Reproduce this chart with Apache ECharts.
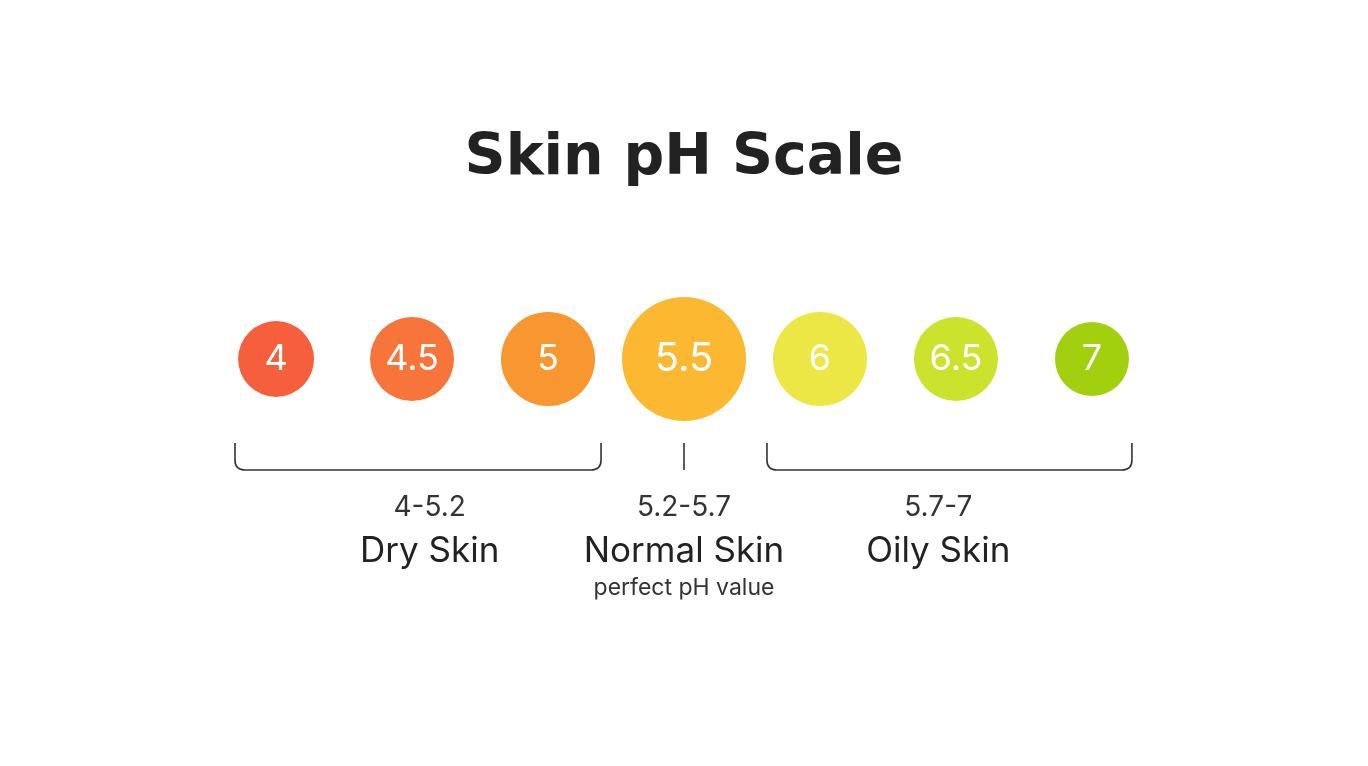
<!DOCTYPE html><html><head><meta charset="utf-8"><script src="https://cdn.jsdelivr.net/npm/echarts@6/dist/echarts.min.js"></script>
<style>html,body{margin:0;background:#fff}#c{width:1368px;height:766px}</style></head><body><div id="c"></div><script>
const phValues=[4,4.5,5,5.5,6,6.5,7];
const phLabels=['4','4.5','5','5.5','6','6.5','7'];
const sizes=[76,84,94,124,94,84,74];
const colors=['#f65f3b','#f7743a','#f8962f','#fbb830','#ece744','#cbe32d','#a2d00e'];
const ranges=[[3.849,5.195],[5.5,5.5],[5.805,7.147]];
const rangeLabels=['4-5.2','5.2-5.7','5.7-7'];
const groupNames=['Dry Skin','Normal Skin','Oily Skin'];
const groupCenters=[4.565,5.5,6.435];
const F='Inter, "Noto Sans", sans-serif';
const ch=echarts.init(document.getElementById('c'));
ch.setOption({
 title:{text:'Skin pH Scale',left:'center',top:126,textStyle:{fontFamily:'"DejaVu Sans", sans-serif',fontSize:57,fontWeight:'bold',color:'#222'}},
 grid:{left:0,right:0,top:0,bottom:0},
 xAxis:{type:'value',min:2.985,max:8.015,show:false},
 yAxis:{type:'value',min:0,max:766,inverse:true,show:false},
 series:[
  {type:'scatter',data:phValues.map((v,i)=>({value:[v,359],symbolSize:sizes[i],itemStyle:{color:colors[i],opacity:1},label:{show:true,formatter:phLabels[i],position:'inside',color:'#fff',fontFamily:F,fontSize:i===3?40:36,fontWeight:400}})),silent:true},
  {type:'custom',data:ranges.map((r,i)=>[r[0],r[1],i]),renderItem:(p,api)=>{
    const a=api.coord([api.value(0),443]),b=api.coord([api.value(1),470]);
    const i=api.value(2);const ls={stroke:'#333',lineWidth:1.6,fill:null};
    const ch=[];
    if(i===1){ch.push({type:'line',shape:{x1:a[0],y1:a[1],x2:a[0],y2:b[1]},style:ls});}
    else{const r=10;ch.push({type:'path',shape:{pathData:`M${a[0]} ${a[1]} L${a[0]} ${b[1]-r} Q${a[0]} ${b[1]} ${a[0]+r} ${b[1]} L${b[0]-r} ${b[1]} Q${b[0]} ${b[1]} ${b[0]} ${b[1]-r} L${b[0]} ${a[1]}`},style:ls});}
    const cx=api.coord([groupCenters[i],0])[0];
    ch.push({type:'text',style:{text:rangeLabels[i],x:cx,y:508,align:'center',verticalAlign:'middle',fontFamily:F,fontSize:28,fill:'#333'}});
    ch.push({type:'text',style:{text:groupNames[i],x:cx,y:551,align:'center',verticalAlign:'middle',fontFamily:F,fontSize:35,fill:'#222'}});
    if(i===1)ch.push({type:'text',style:{text:'perfect pH value',x:cx,y:588,align:'center',verticalAlign:'middle',fontFamily:F,fontSize:23,fill:'#333'}});
    return {type:'group',children:ch};
  },silent:true}
 ]
});
</script></body></html>
